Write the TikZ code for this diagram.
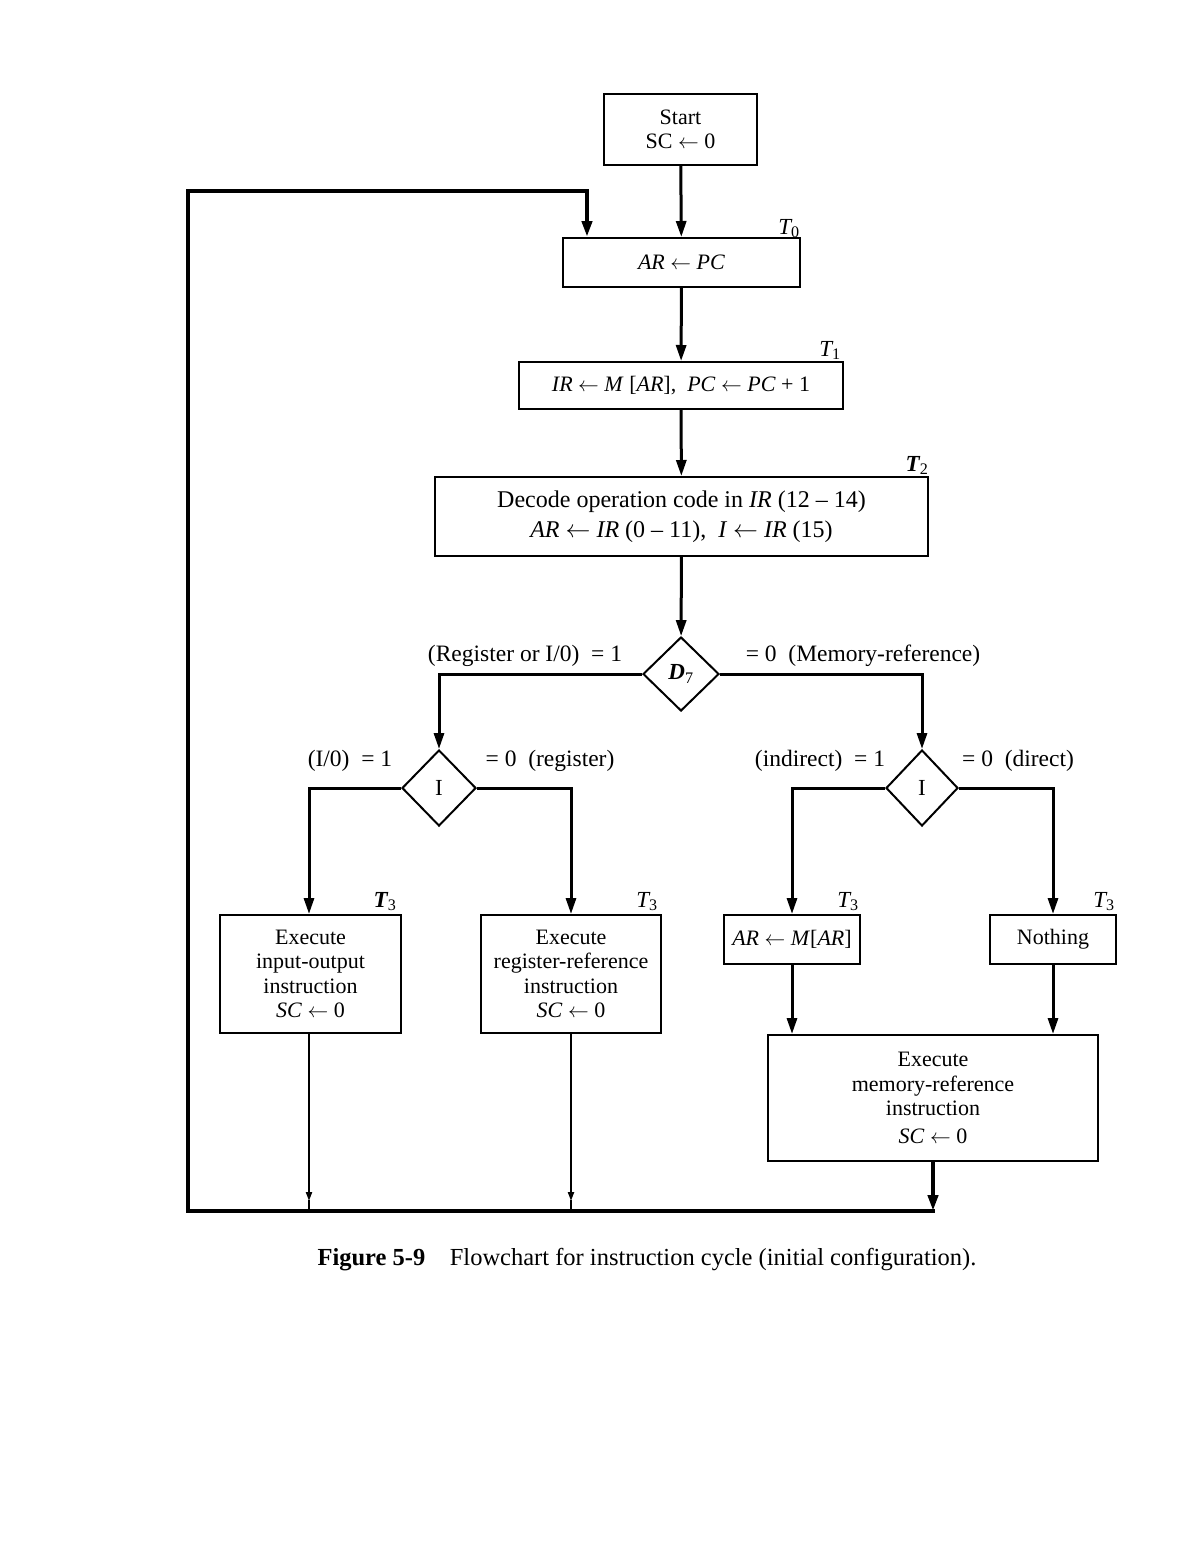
\documentclass[tikz,border=0pt]{standalone}
\usepackage{fontspec}
\setmainfont{Liberation Serif}
\usetikzlibrary{arrows.meta,shapes.geometric,calc}
\begin{document}
\begin{tikzpicture}[x=1pt,y=-1pt,
  box/.style={draw,line width=2pt,inner sep=0pt,align=center,font=\fontsize{22}{24.5}\selectfont},
  dia/.style={draw,diamond,line width=2pt,inner sep=0pt,font=\fontsize{23}{24}\selectfont},
  flow/.style={line width=3pt,-{Triangle[length=16pt,width=10pt]}},
  branch/.style={line width=3pt,line join=miter,-{Triangle[length=16pt,width=10pt]}},
  back/.style={line width=4pt,line join=miter,line cap=rect},
  thinflow/.style={line width=2pt,-{Triangle[length=9pt,width=6pt]}},
  tlab/.style={anchor=base,font=\fontsize{23}{24}\selectfont\itshape},
  lab/.style={anchor=base,font=\fontsize{23.5}{24}\selectfont},
]
\useasboundingbox (0,0) rectangle (1200,1553);
\fill[white] (0,0) rectangle (1200,1553);

% boxes
\node[box,minimum width=153pt,minimum height=71pt] (start) at (680.5,129.5) {Start\\SC $\leftarrow$ 0};
\node[box,minimum width=237pt,minimum height=49pt] (ar) at (681.5,262.5) {\textit{AR} $\leftarrow$ \textit{PC}};
\node[box,minimum width=324pt,minimum height=47pt] (ir) at (681,385.5) {\textit{IR} $\leftarrow$ \textit{M} [\textit{AR}], \ \textit{PC} $\leftarrow$ \textit{PC} + 1};
\node[box,minimum width=493pt,minimum height=79pt,font=\fontsize{24}{30}\selectfont] (dec) at (681.5,516.5) {Decode operation code in \textit{IR} (12 -- 14)\\\textit{AR} $\leftarrow$ \textit{IR} (0 -- 11), \ \textit{I} $\leftarrow$ \textit{IR} (15)};
\node[dia,minimum width=76pt,minimum height=74pt] (d7) at (681,674) {\raisebox{-3pt}{\textbf{\textit{D}}\textsubscript{7}}};
\node[dia,minimum width=74pt,minimum height=76pt] (i1) at (439,788) {I};
\node[dia,minimum width=72pt,minimum height=76pt] (i2) at (922,788) {I};
\node[box,minimum width=181pt,minimum height=118pt] (io) at (310.5,974) {Execute\\input-output\\instruction\\\textit{SC} $\leftarrow$ 0};
\node[box,minimum width=180pt,minimum height=118pt] (reg) at (571,974) {Execute\\register-reference\\instruction\\\textit{SC} $\leftarrow$ 0};
\node[box,minimum width=136pt,minimum height=49pt] (arm) at (792,939.5) {\textit{AR} $\leftarrow$\ \textit{M}[\textit{AR}]};
\node[box,minimum width=126pt,minimum height=49pt] (noth) at (1053,939.5) {Nothing};
\node[box,minimum width=330pt,minimum height=126pt] (mem) at (933,1098) {Execute\\memory-reference\\instruction\\[3pt]\textit{SC} $\leftarrow$ 0};

% timing labels
\node[tlab] (t0) at (789,234) {T\textsubscript{\upshape 0}};
\node[tlab] (t1) at (830,356) {T\textsubscript{\upshape 1}};
\node[tlab] (t2) at (917,471) {\textbf{T}\textsubscript{\upshape 2}};
\node[tlab] (t3a) at (385,907) {\textbf{T}\textsubscript{\upshape 3}};
\node[tlab] (t3b) at (647,907) {T\textsubscript{\upshape 3}};
\node[tlab] (t3c) at (848,907) {T\textsubscript{\upshape 3}};
\node[tlab] (t3d) at (1104,907) {T\textsubscript{\upshape 3}};

% branch labels
\node[lab] (l1) at (525,661) {(Register or I/0) \ = 1};
\node[lab] (l2) at (863,661) {= 0 \ (Memory-reference)};
\node[lab] (l3) at (350,766) {(I/0) \ = 1};
\node[lab] (l4) at (550,766) {= 0 \ (register)};
\node[lab] (l5) at (820,766) {(indirect) \ = 1};
\node[lab] (l6) at (1018,766) {= 0 \ (direct)};

% caption
\node[anchor=base,font=\fontsize{24.5}{26}\selectfont] (cap) at (647,1265) {\textbf{Figure 5-9}\quad Flowchart for instruction cycle (initial configuration).};

% coordinates for the return path
\coordinate (bm) at (933,1211);
\coordinate (bl) at (188,1211);
\coordinate (tl) at (188,191);
\coordinate (tr) at (587,191);

% main flow
\draw[flow] (start) -- (ar);
\draw[flow] (ar) -- (ir);
\draw[flow] (ir) -- (dec);
\draw[flow] (dec) -- (d7);
\draw[branch] (d7.west) -| (i1.north);
\draw[branch] (d7.east) -| (i2.north);
\draw[branch] (i1.west) -| ([xshift=-1.5pt]io.north);
\draw[branch] (i1.east) -| (reg.north);
\draw[branch] (i2.west) -| (arm.north);
\draw[branch] (i2.east) -| (noth.north);
\draw[flow] (arm.south) -- (arm.south |- mem.north);
\draw[flow] (noth.south) -- (noth.south |- mem.north);

% return path
\draw[line width=4pt,-{Triangle[length=16pt,width=10pt]}] (mem.south) -- (bm);
\draw[back] (bm) -- (bl) -- (tl) -- (tr);
\draw[line width=4pt,-{Triangle[length=16pt,width=10pt]}] ([yshift=2pt]tr) -- (tr |- ar.north);
\draw[thinflow] ([xshift=-1.5pt]io.south) -- ([xshift=-1.5pt,yshift=10pt]io.south |- bl);
\draw[line width=2pt] ([xshift=-1.5pt,yshift=11pt]io.south |- bl) -- ([xshift=-1.5pt]io.south |- bl);
\draw[thinflow] (reg.south) -- ([yshift=10pt]reg.south |- bl);
\draw[line width=2pt] ([yshift=11pt]reg.south |- bl) -- (reg.south |- bl);
\end{tikzpicture}
\end{document}
